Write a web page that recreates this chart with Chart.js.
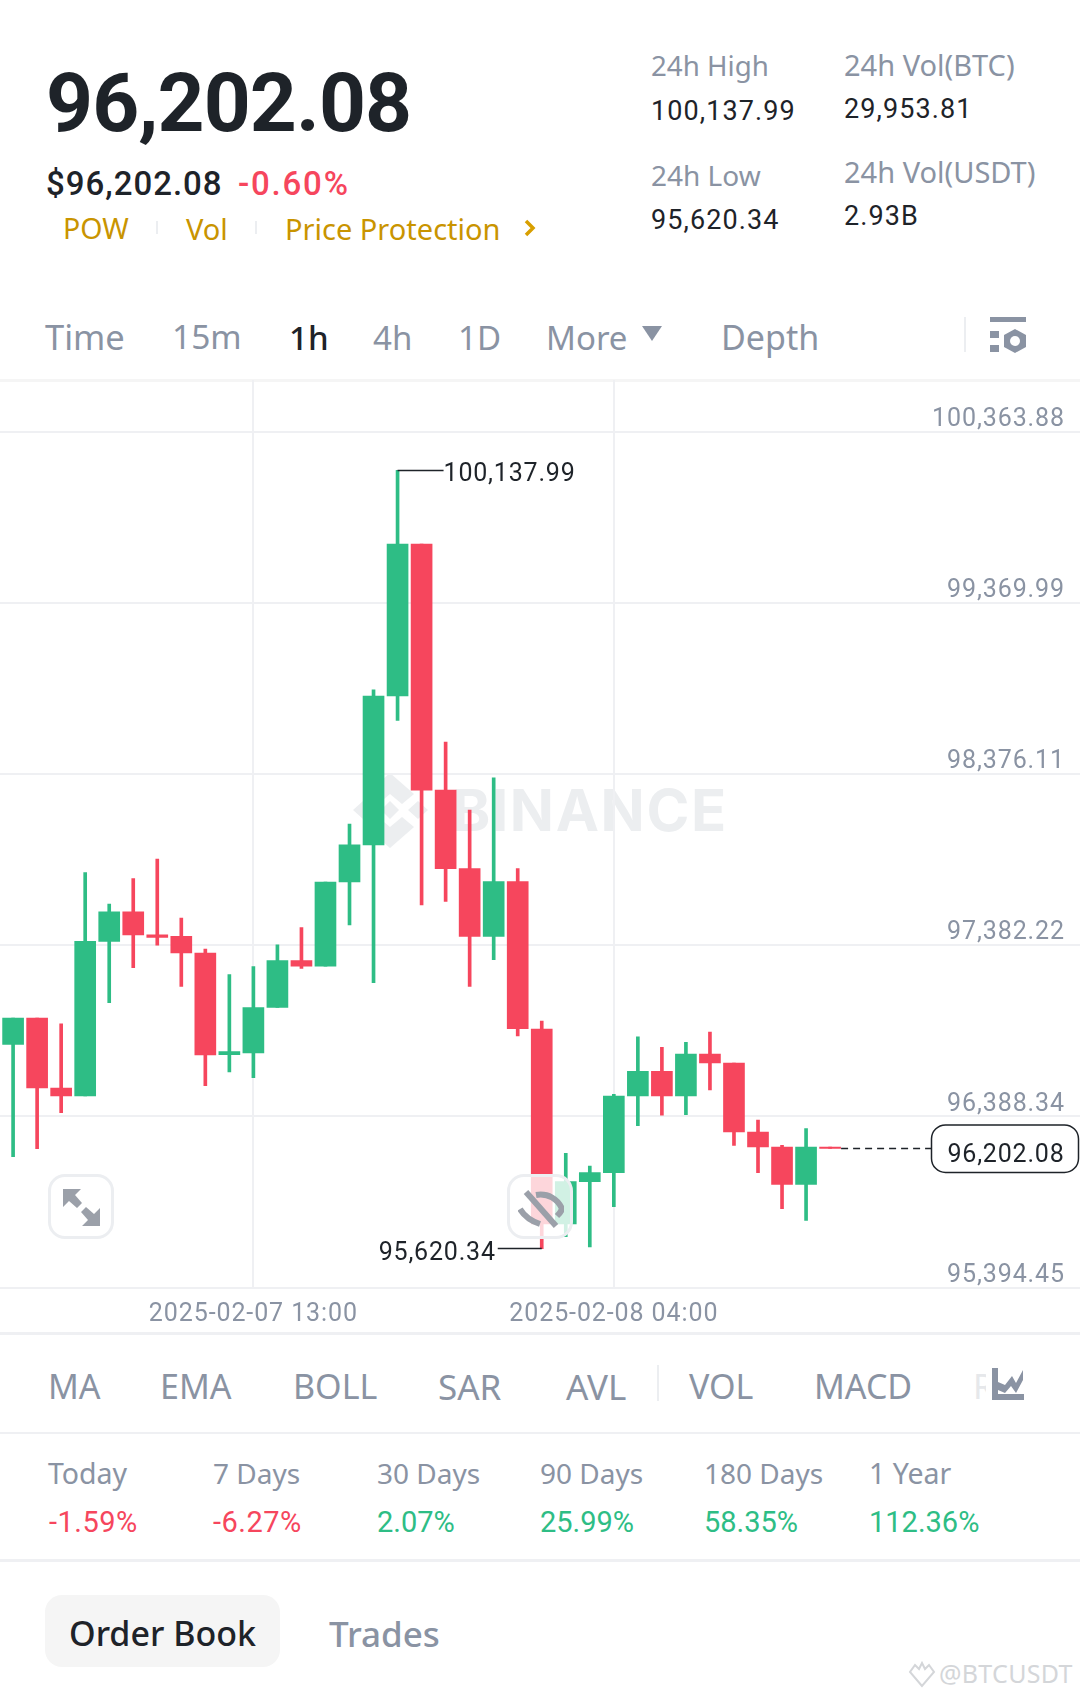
<!DOCTYPE html>
<html><head><meta charset="utf-8">
<script src="https://cdn.jsdelivr.net/npm/chart.js@4"></script>
<style>
html,body{margin:0;padding:0;background:#fff;width:1080px;height:1695px;overflow:hidden;font-family:"Noto Sans",sans-serif}
.t{position:absolute;white-space:nowrap;transform:translateY(-50%);line-height:1}
.g{color:#8a93a3}.d{color:#1e2329}.r{color:#f6465d}.u{color:#2ebd85}.y{color:#c99400}
.n{font-family:Roboto,sans-serif;letter-spacing:.6px}
.l{position:absolute;left:0;width:1080px;background:#eff0f3}
.v{position:absolute;background:#eceef1}
#chart{position:absolute;left:0;top:380px;z-index:2}
.btn{position:absolute;top:1174px;width:66px;height:65px;box-sizing:border-box;border:3px solid #eceef1;border-radius:17px;background:rgba(255,255,255,.78);z-index:3}
</style></head><body>
<div class="t n d" style="left:46px;top:103px;font-size:82px;font-weight:700;letter-spacing:-.9px">96,202.08</div>
<div class="t n d" style="left:46px;top:183px;font-size:33px;font-weight:500;letter-spacing:1px">$96,202.08</div>
<div class="t n r" style="left:238px;top:183px;font-size:33px;font-weight:500;letter-spacing:1.8px">-0.60%</div>
<div class="t y" style="left:63px;top:228px;font-size:28.5px">POW</div>
<div class="v" style="left:156px;top:221px;width:2px;height:13px"></div>
<div class="t y" style="left:186px;top:228px;font-size:29px">Vol</div>
<div class="v" style="left:255px;top:221px;width:2px;height:13px"></div>
<div class="t y" style="left:285px;top:228px;font-size:29px">Price Protection</div>
<svg style="position:absolute;left:522px;top:218px" width="16" height="20"><path d="M4 3l7 7-7 7" fill="none" stroke="#d89f00" stroke-width="3.5"/></svg>
<div class="t g" style="left:651px;top:66px;font-size:27.7px">24h High</div>
<div class="t n d" style="left:651px;top:111px;font-size:27px;letter-spacing:1.1px">100,137.99</div>
<div class="t g" style="left:844px;top:64px;font-size:29px">24h Vol(BTC)</div>
<div class="t n d" style="left:844px;top:109px;font-size:27px;letter-spacing:1.1px">29,953.81</div>
<div class="t g" style="left:651px;top:175px;font-size:28px">24h Low</div>
<div class="t n d" style="left:651px;top:220px;font-size:27px;letter-spacing:1.1px">95,620.34</div>
<div class="t g" style="left:844px;top:171px;font-size:29px">24h Vol(USDT)</div>
<div class="t n d" style="left:844px;top:216px;font-size:27px;letter-spacing:1.1px">2.93B</div>

<div class="t g" style="left:45px;top:337px;font-size:34.5px">Time</div>
<div class="t g" style="left:172px;top:337px;font-size:33.5px">15m</div>
<div class="t d" style="left:289px;top:337px;font-size:33px;font-weight:500">1h</div>
<div class="t g" style="left:373px;top:337px;font-size:33px">4h</div>
<div class="t g" style="left:458px;top:337px;font-size:33px">1D</div>
<div class="t g" style="left:546px;top:337px;font-size:33px">More</div>
<svg style="position:absolute;left:642px;top:326px" width="20" height="15"><path d="M0 0h20l-10 15z" fill="#8a93a3"/></svg>
<div class="t g" style="left:721px;top:337px;font-size:34px">Depth</div>
<div class="v" style="left:964px;top:317px;width:2px;height:35px"></div>
<svg style="position:absolute;left:990px;top:317px" width="36" height="36"><rect x="0" y="0" width="36" height="5" fill="#8a93a3"/><rect x="0" y="14" width="9" height="7" fill="#8a93a3"/><rect x="0" y="28" width="9" height="7" fill="#8a93a3"/><path d="M25 12l11 6v12l-11 6-11-6V18z" fill="#8a93a3"/><circle cx="25" cy="24" r="5" fill="#fff"/></svg>
<div class="l" style="top:379px;height:3px;background:#f5f5f5"></div>

<div class="t" style="left:452px;top:810px;font-size:58px;font-weight:700;color:#eceef0;letter-spacing:1.6px;font-family:Inter,Roboto,sans-serif">BINANCE</div>
<svg style="position:absolute;left:353px;top:773px" width="75" height="75"><g fill="#eceef0"><path d="M37 0l24 21-12 10-12-10-12 10-12-10z"/><path d="M37 75l24-21-12-10-12 10-12-10-12 10z"/><path d="M0 37l10-9 10 9-10 9z"/><path d="M55 37l10-9 10 9-10 9z"/><path d="M37 28l9 9-9 9-9-9z"/></g></svg>

<canvas id="chart" width="1080" height="953"></canvas>

<div class="btn" style="left:48px"><svg style="position:absolute;left:12px;top:12px" width="37" height="37"><g fill="#9ba0a9"><path d="M0 0h18l-6 6 7 8-5 5-8-7-6 6z"/><path d="M37 37H19l6-6-7-8 5-5 8 7 6-6z"/></g></svg></div>
<div class="btn" style="left:507px"><svg style="position:absolute;left:8px;top:12px" width="46" height="40"><g fill="none" stroke="#9ba0a9" stroke-width="6"><path d="M8 3L38 37"/><path d="M2 20c6 10 14 13 20 15"/><path d="M18 6c12-2 22 4 26 14-1 3-3 5-5 7"/></g></svg></div>

<div class="l" style="top:1332px;height:3px"></div>
<div class="t g" style="left:48px;top:1386px;font-size:34px">MA</div>
<div class="t g" style="left:160px;top:1386px;font-size:34px">EMA</div>
<div class="t g" style="left:293px;top:1386px;font-size:34px">BOLL</div>
<div class="t g" style="left:438px;top:1386px;font-size:35px">SAR</div>
<div class="t g" style="left:566px;top:1386px;font-size:35px">AVL</div>
<div class="v" style="left:657px;top:1365px;width:2px;height:36px"></div>
<div class="t g" style="left:689px;top:1386px;font-size:34px">VOL</div>
<div class="t g" style="left:814px;top:1386px;font-size:34px">MACD</div>
<div class="t" style="left:973px;top:1386px;font-size:34px;color:#e6e8eb;width:13px;overflow:hidden">R</div>
<svg style="position:absolute;left:992px;top:1368px" width="32" height="32"><path d="M0 0h6v26h26v6H0z" fill="#8a93a3"/><path d="M6 14l7 3 7-9 4 7 7-13v10l-7 13-5-7-6 7-7-3z" fill="#8a93a3"/></svg>
<div class="l" style="top:1432px;height:2px"></div>
<div class="t g" style="left:48px;top:1473px;font-size:28.5px">Today</div>
<div class="t n r" style="left:49px;top:1522px;font-size:29px;letter-spacing:.5px">-1.59%</div>
<div class="t g" style="left:213px;top:1473px;font-size:28px">7 Days</div>
<div class="t n r" style="left:213px;top:1522px;font-size:29px;letter-spacing:.5px">-6.27%</div>
<div class="t g" style="left:377px;top:1473px;font-size:28px">30 Days</div>
<div class="t n u" style="left:377px;top:1522px;font-size:29px;letter-spacing:0">2.07%</div>
<div class="t g" style="left:540px;top:1473px;font-size:28px">90 Days</div>
<div class="t n u" style="left:540px;top:1522px;font-size:29px;letter-spacing:0">25.99%</div>
<div class="t g" style="left:704px;top:1473px;font-size:28px">180 Days</div>
<div class="t n u" style="left:704px;top:1522px;font-size:29px;letter-spacing:0">58.35%</div>
<div class="t g" style="left:869px;top:1473px;font-size:28.5px">1 Year</div>
<div class="t n u" style="left:869px;top:1522px;font-size:29px;letter-spacing:0">112.36%</div>
<div class="l" style="top:1559px;height:3px"></div>
<div style="position:absolute;left:45px;top:1595px;width:235px;height:72px;border-radius:17px;background:#f5f5f5"></div>
<div class="t d" style="left:69px;top:1633px;font-size:34px;font-weight:500">Order Book</div>
<div class="t g" style="left:329px;top:1633px;font-size:35px;font-weight:500">Trades</div>
<div class="t" style="left:939px;top:1673px;font-size:25px;color:#d4d6d9;letter-spacing:.3px">@BTCUSDT</div>
<svg style="position:absolute;left:908px;top:1658px" width="28" height="30"><path d="M14 28L2 14l5-7 4 4 3-6 3 6 4-4 5 7z" fill="none" stroke="#d4d6d9" stroke-width="2"/></svg>

<script>
const categories = [
"2025-02-07 03:00","2025-02-07 04:00","2025-02-07 05:00","2025-02-07 06:00","2025-02-07 07:00",
"2025-02-07 08:00","2025-02-07 09:00","2025-02-07 10:00","2025-02-07 11:00","2025-02-07 12:00",
"2025-02-07 13:00","2025-02-07 14:00","2025-02-07 15:00","2025-02-07 16:00","2025-02-07 17:00",
"2025-02-07 18:00","2025-02-07 19:00","2025-02-07 20:00","2025-02-07 21:00","2025-02-07 22:00",
"2025-02-07 23:00","2025-02-08 00:00","2025-02-08 01:00","2025-02-08 02:00","2025-02-08 03:00",
"2025-02-08 04:00","2025-02-08 05:00","2025-02-08 06:00","2025-02-08 07:00","2025-02-08 08:00",
"2025-02-08 09:00","2025-02-08 10:00","2025-02-08 11:00","2025-02-08 12:00","2025-02-08 13:00"];
const opens = [96806.3,96957.9,96552.6,96506.2,97404.3,97575.0,97442.0,97432.7,97335.2,96746.0,
96755.8,97020.0,97292.8,97259.8,97748.5,97963.9,98828.3,99710.2,98281.5,97826.3,
97432.7,97750.9,96895.1,95763.1,96008.7,96060.9,96506.2,96649.6,96506.2,96750.1,
96697.8,96297.2,96210.2,95993.6,96210.2];
const closes = [96957.9,96552.6,96506.2,97404.3,97575.0,97442.0,97426.4,97337.5,96744.2,96763.4,
97020.0,97292.8,97259.8,97748.5,97963.9,98828.3,99710.2,98281.5,97826.3,97432.7,
97750.9,96897.4,95763.1,96008.7,96060.9,96506.2,96649.6,96506.2,96750.1,96697.8,
96297.2,96210.2,95993.6,96210.2,96202.08];
const highs = [96957.9,96957.9,96925.9,97803.7,97619.7,97768.3,97882.1,97539.6,97359.6,97211.0,
97257.4,97384.0,97483.8,97748.5,98084.1,98863.8,100137.99,99710.2,98561.3,98166.5,
98352.9,97826.3,96941.6,96173.5,96099.8,96516.1,96850.4,96788.9,96817.9,96877.8,
96697.8,96366.9,96220.0,96316.4,96210.2];
const lows = [96153.8,96200.2,96409.3,96506.2,97048.4,97251.0,97381.7,97141.9,96566.0,96645.5,
96612.4,97020.0,97246.4,97259.8,97499.5,97163.9,98686.1,97615.0,97635.3,97141.9,
97297.4,96854.4,95620.34,95689.4,95629.6,95863.5,96333.8,96394.2,96397.6,96541.0,
96220.0,96060.9,95851.9,95784.6,96202.08];
const yTicks = [95394.45,96388.34,97382.22,98376.11,99369.99,100363.88];
const xTickIndexes = [10,25];
const lastPrice = 96202.08;
const yMin = 95394.45, yMax = 100662.9;
const xMin = -0.545, xMax = 44.4;

const UP = '#2ebd85', DOWN = '#f6465d', GRID = '#eff0f3', TICK = '#8a93a3', INK = '#1e2329';
const FONT = 'Roboto, sans-serif';
const fmt = v => v.toLocaleString('en-US',{minimumFractionDigits:2,maximumFractionDigits:2});
const colors = closes.map((c,i)=> c>=opens[i] ? UP : DOWN);
const idx = categories.map((_,i)=>i);

const overlay = {
  id:'overlay',
  beforeDraw(ch){ ch.ctx.letterSpacing='0.9px'; },
  afterDatasetsDraw(ch){
    const {ctx,scales:{x,y}} = ch;
    const hi = highs.indexOf(Math.max(...highs)), lo = lows.indexOf(Math.min(...lows));
    ctx.save();
    ctx.letterSpacing='0.8px';
    ctx.font='25px '+FONT; ctx.fillStyle=INK; ctx.textBaseline='middle';
    ctx.strokeStyle=INK; ctx.lineWidth=1.5;
    const hx=x.getPixelForValue(hi), hy=y.getPixelForValue(highs[hi]);
    ctx.beginPath(); ctx.moveTo(hx,hy); ctx.lineTo(hx+46,hy); ctx.stroke();
    ctx.textAlign='left'; ctx.fillText(fmt(highs[hi]),hx+46,hy+4);
    const lx=x.getPixelForValue(lo), ly=y.getPixelForValue(lows[lo]);
    ctx.beginPath(); ctx.moveTo(lx,ly); ctx.lineTo(lx-44,ly); ctx.stroke();
    ctx.textAlign='right'; ctx.fillText(fmt(lows[lo]),lx-46,ly+5);
    const py=y.getPixelForValue(lastPrice), px=x.getPixelForValue(closes.length-1)+11;
    ctx.setLineDash([7,5]); ctx.beginPath(); ctx.moveTo(px,py); ctx.lineTo(931,py); ctx.stroke(); ctx.setLineDash([]);
    ctx.beginPath(); ctx.roundRect(931.5,py-23.5,147,47.5,14); ctx.fillStyle='#fff'; ctx.fill(); ctx.stroke();
    ctx.fillStyle=INK; ctx.textAlign='right'; ctx.fillText(fmt(lastPrice),1064.5,py+7);
    ctx.restore();
  }
};

new Chart(document.getElementById('chart'),{
  type:'bar',
  data:{datasets:[
    {label:'Wick',data:idx.map(i=>({x:i,y:[lows[i],highs[i]]})),backgroundColor:colors,barThickness:3,grouped:false,order:2},
    {label:'Body',data:idx.map(i=>({x:i,y:[opens[i],closes[i]]})),backgroundColor:colors,barThickness:21,grouped:false,order:1}
  ]},
  options:{
    responsive:false,animation:false,devicePixelRatio:1,
    layout:{padding:0},
    plugins:{legend:{display:false},tooltip:{enabled:false}},
    scales:{
      x:{type:'linear',min:xMin,max:xMax,offset:false,
        border:{display:false},
        grid:{offset:false,color:GRID,lineWidth:2,drawTicks:false},
        afterBuildTicks(s){s.ticks=xTickIndexes.map(v=>({value:v}));},
        afterFit(s){s.height=45.5;s.paddingLeft=0;s.paddingRight=0;},
        ticks:{autoSkip:false,maxRotation:0,minRotation:0,color:TICK,padding:12,font:{family:FONT,size:25},callback:v=>categories[v]}
      },
      y:{type:'linear',position:'right',min:yMin,max:yMax,
        border:{display:false},
        grid:{color:GRID,lineWidth:2,drawTicks:false},
        afterBuildTicks(s){s.ticks=yTicks.map(v=>({value:v}));},
        afterFit(s){s.width=0;s.paddingTop=0;s.paddingBottom=0;},
        ticks:{autoSkip:false,mirror:true,padding:-15,labelOffset:-12,color:TICK,font:{family:FONT,size:25},callback:v=>fmt(v)}
      }
    }
  },
  plugins:[overlay]
});
</script>
</body></html>
